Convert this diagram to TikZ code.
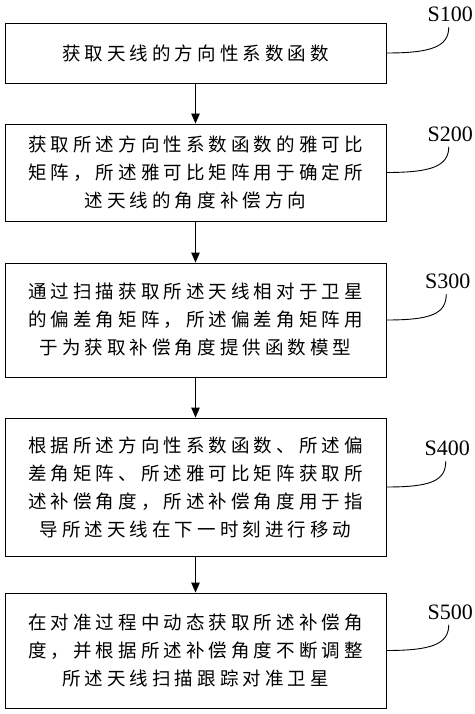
\documentclass[tikz,border=0pt]{standalone}
\usepackage{fontspec}
\setmainfont{Liberation Serif}
\newfontfamily\cjk[LetterSpace=22]{Noto Sans CJK SC}
\usetikzlibrary{arrows.meta}
\begin{document}
\begin{tikzpicture}[x=1pt,y=-1pt,
stepbox/.style={draw,line width=0.9pt,minimum width=381pt,inner sep=0pt,align=center,font=\cjk\fontsize{18.5}{28}\selectfont},
steplb/.style={anchor=west,inner sep=0pt,font=\fontsize{22}{22}\selectfont},
flow/.style={line width=0.9pt,-{Triangle[length=10pt,width=8.5pt]}},
lead/.style={line width=0.9pt}]
\useasboundingbox(0,0)rectangle(474,714);
\pgfmathsetmacro{\kx}{195.5}
\pgfmathsetmacro{\kw}{381}
\node[stepbox,minimum height=60pt](s1)at(\kx,53){获取天线的方向性系数函数};
\node[stepbox,minimum height=97pt](s2)at(\kx,172.5){获取所述方向性系数函数的雅可比\\矩阵，所述雅可比矩阵用于确定所\\述天线的角度补偿方向};
\node[stepbox,minimum height=114pt](s3)at(\kx,320){通过扫描获取所述天线相对于卫星\\的偏差角矩阵，所述偏差角矩阵用\\于为获取补偿角度提供函数模型};
\node[stepbox,minimum height=138pt](s4)at(\kx,487){根据所述方向性系数函数、所述偏\\差角矩阵、所述雅可比矩阵获取所\\述补偿角度，所述补偿角度用于指\\导所述天线在下一时刻进行移动};
\node[stepbox,minimum height=115pt](s5)at(\kx,650.5){在对准过程中动态获取所述补偿角\\度，并根据所述补偿角度不断调整\\所述天线扫描跟踪对准卫星};
\foreach \ki/\kj in {1/2,2/3,3/4,4/5}{\draw[flow](s\ki)--(s\kj);}
% step labels and leaders
\foreach \ki/\klb/\kdx in {1/S100/41,2/S200/41,3/S300/38.5,4/S400/38,5/S500/41}{
\node[steplb](l\ki)at([xshift=\kdx pt,yshift=38.5pt]s\ki.east){\klb};
\draw[lead](s\ki.east)..controls +(44,0) and +(0,20)..([xshift=-1.5pt,yshift=-5pt]l\ki.south);}
\end{tikzpicture}
\end{document}
